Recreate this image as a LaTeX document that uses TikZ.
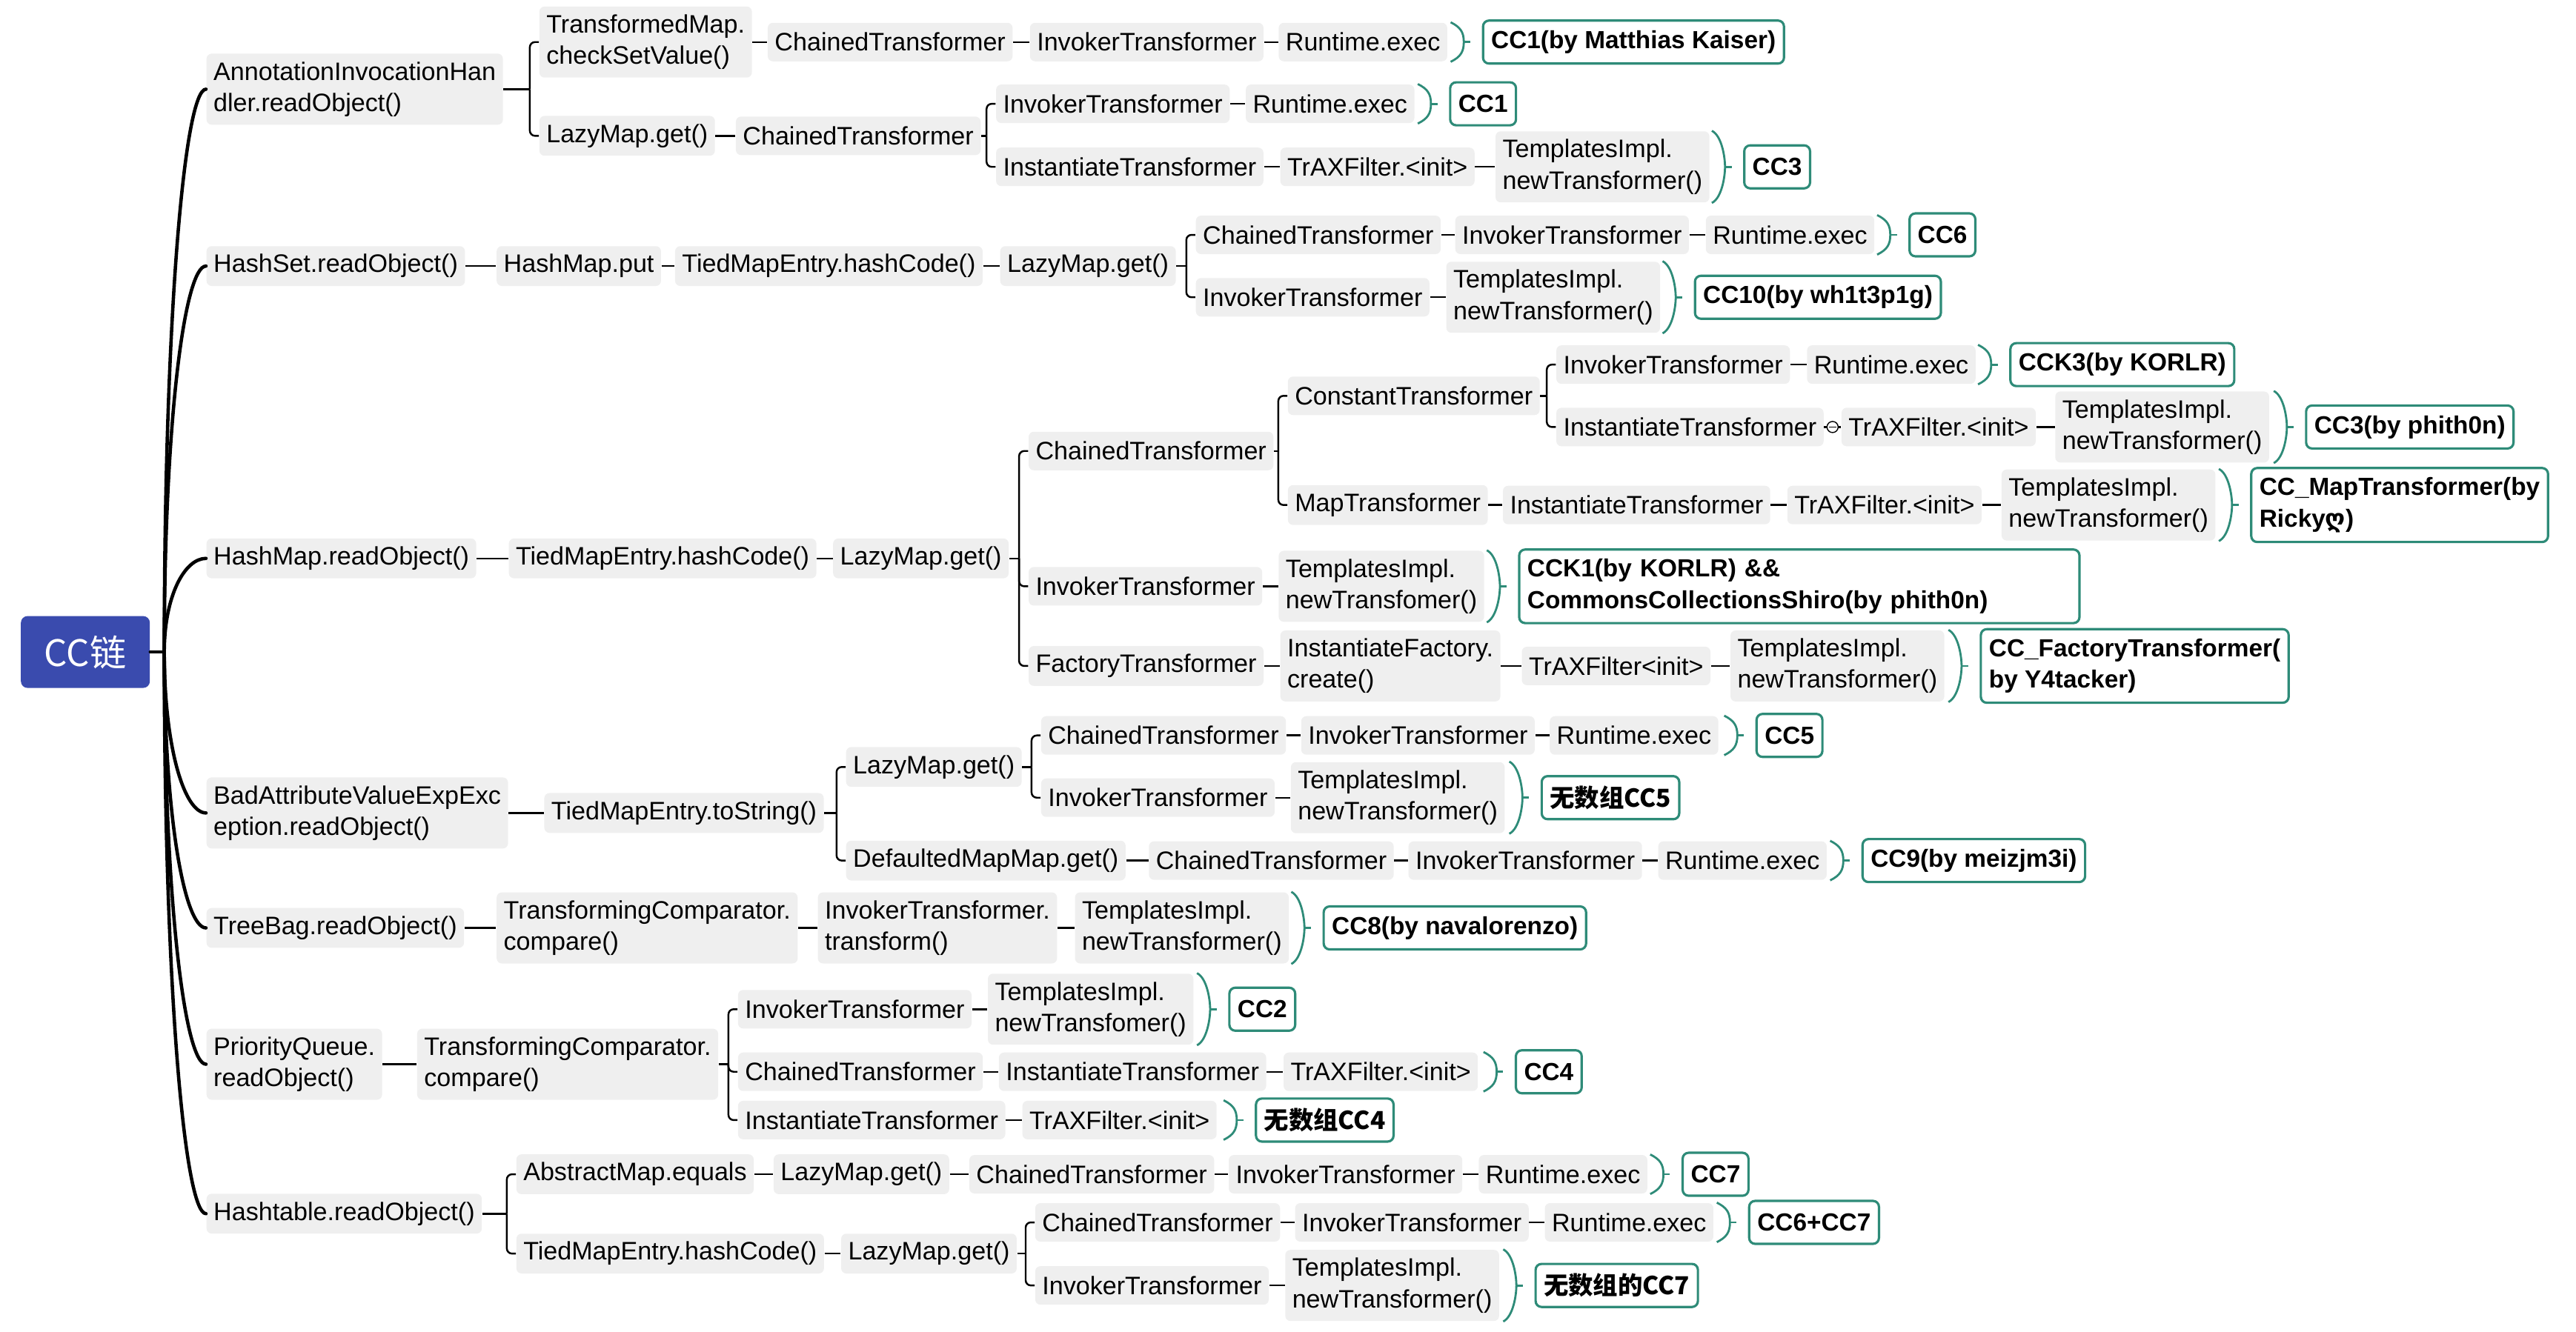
\documentclass[tikz,border=0pt]{standalone}
\usepackage{fontspec}
\setmainfont{Liberation Sans}
\newfontfamily\cjk{Noto Sans CJK SC}
\newfontfamily\geo{DejaVu Sans}
\usetikzlibrary{calc}
\definecolor{rootblue}{HTML}{3A4BAE}
\definecolor{itemgray}{HTML}{EFEFEF}
\definecolor{sumgreen}{HTML}{2E8B78}
\tikzset{%
    % style for the central topic
    root/.style={%
        fill=rootblue,
        text=white,
        rounded corners=0.9mm,
        minimum width=17.4mm,
        minimum height=9.7mm,
        anchor=west,
        font=\fontsize{14}{16}\selectfont,
    },
    % style for one step of a gadget chain
    item/.style={%
        fill=itemgray,
        rounded corners=0.7mm,
        inner xsep=0.95mm,
        inner ysep=1.1mm,
        minimum height=5.2mm,
        anchor=west,
        align=left,
        font=\fontsize{9.7}{12}\selectfont,
    },
    % style for the name of a chain
    result/.style={%
        draw=sumgreen,
        line width=0.9pt,
        fill=white,
        rounded corners=0.8mm,
        inner xsep=1.1mm,
        inner ysep=1.3mm,
        minimum height=5.8mm,
        anchor=west,
        align=left,
        font=\fontsize{9.5}{12}\selectfont\bfseries,
    },
    % style for the lines between the steps
    link/.style={%
        line width=0.7pt,
    },
    % style for the lines from the central topic
    trunk/.style={%
        line width=1.3pt,
        line cap=round,
    },
    % style for the summary brackets
    brace/.style={%
        sumgreen,
        line width=0.8pt,
    },
    % style for the folding mark
    fold mark/.style={%
        draw,
        fill=white,
        line width=0.4pt,
        shape=circle,
        inner sep=0pt,
        minimum size=1.5mm,
    },
}
% fork from a parent to its children
\newcommand{\fanout}[3]{%
    \path (#2.west) ++(-5.5,0) coordinate (tmp-hub);
    \coordinate (#1-hub) at (#1.east -| tmp-hub);
    \draw [link] (#1.east) -- (#1-hub);
    \foreach \kid in {#3} {%
        \draw [link, rounded corners=0.7mm] (#1-hub) |- (\kid.west);
    }%
}
% bracket between the last step and the name of the chain
\newcommand{\resultbrace}[2]{%
    \path ($(#2.west |- #1.north)+(-19,0)$) coordinate (br-top)
          ($(#2.west |- #1.south)+(-19,0)$) coordinate (br-bot)
          ($(br-top)!0.5!(br-bot)+(8,0)$) coordinate (br-mid);
    \draw [brace] (br-top) .. controls +(6,3) and +(0,-6) .. (br-mid)
          .. controls +(0,6) and +(6,-3) .. (br-bot);
    \draw [brace] (br-mid) -- ++(4,0);
}

\begin{document}
\begin{tikzpicture}[x=0.22168mm, y=-0.22168mm]
    % the picture is 1568 x 811 units
    \useasboundingbox (0,0) rectangle (1568,811);
    % central topic
    \node (root) at (12.4,397) [root] {\cjk CC链};
    \coordinate (root-hub) at (100,397);
    % first level
    \node (a0) at (125.4,54.3) [item] {AnnotationInvocationHan\\dler.readObject()};
    \node (b0) at (125.4,162) [item] {HashSet.readObject()};
    \node (c0) at (125.4,340) [item] {HashMap.readObject()};
    \node (d0) at (125.4,495) [item] {BadAttributeValueExpExc\\eption.readObject()};
    \node (e0) at (125.4,565) [item] {TreeBag.readObject()};
    \node (f0) at (125.4,648) [item] {PriorityQueue.\\readObject()};
    \node (g0) at (125.4,739) [item] {Hashtable.readObject()};
    %% curves from the central topic
    \draw [trunk] (root.east) -- (root-hub);
    \foreach \n in {a0,b0,c0,d0,e0,f0,g0}
        \draw [trunk] (root-hub) .. controls ($(root-hub)!0.6!(root-hub |- \n.west)$)
              and ($(\n.west)+(-13,0)$) .. (\n.west);
    % AnnotationInvocationHandler
    \node (a1) at (328,25.6) [item] {TransformedMap.\\checkSetValue()};
    \node (a1b) at (467,25.6) [item] {ChainedTransformer};
    \node (a1c) at (626.6,25.6) [item] {InvokerTransformer};
    \node (a1d) at (778,25.6) [item] {Runtime.exec};
    \node (ra1) at (902,25.6) [result] {CC1(by Matthias Kaiser)};
    \node (a2) at (328,82.7) [item] {LazyMap.get()};
    \node (a2b) at (447.6,82.7) [item] {ChainedTransformer};
    \node (a2c) at (606,63.2) [item] {InvokerTransformer};
    \node (a2d) at (758,63.2) [item] {Runtime.exec};
    \node (ra2) at (882,63.2) [result] {CC1};
    \node (a2e) at (606,101.6) [item] {InstantiateTransformer};
    \node (a2f) at (779,101.6) [item] {TrAXFilter.<init>};
    \node (a2g) at (910,101.6) [item] {TemplatesImpl.\\newTransformer()};
    \node (ra3) at (1061,101.6) [result] {CC3};
    % HashSet
    \node (b1) at (302,162) [item] {HashMap.put};
    \node (b2) at (410.6,162) [item] {TiedMapEntry.hashCode()};
    \node (b3) at (608.5,162) [item] {LazyMap.get()};
    \node (b4) at (727.6,143) [item] {ChainedTransformer};
    \node (b5) at (885.5,143) [item] {InvokerTransformer};
    \node (b6) at (1038,143) [item] {Runtime.exec};
    \node (rb1) at (1161.6,143) [result] {CC6};
    \node (b7) at (727.6,181) [item] {InvokerTransformer};
    \node (b8) at (880,181) [item] {TemplatesImpl.\\newTransformer()};
    \node (rb2) at (1031,181) [result] {CC10(by wh1t3p1g)};
    % HashMap
    \node (c1) at (309.4,340) [item] {TiedMapEntry.hashCode()};
    \node (c2) at (506.8,340) [item] {LazyMap.get()};
    \node (c3) at (625.8,274.6) [item] {ChainedTransformer};
    \node (c4) at (783.6,241) [item] {ConstantTransformer};
    \node (c5) at (947,222) [item] {InvokerTransformer};
    \node (c6) at (1099.6,222) [item] {Runtime.exec};
    \node (rc1) at (1223,222) [result] {CCK3(by KORLR)};
    \node (c7) at (947,260) [item] {InstantiateTransformer};
    \node (c8) at (1120.6,260) [item] {TrAXFilter.<init>};
    \node (c9) at (1250.7,260) [item] {TemplatesImpl.\\newTransformer()};
    \node (rc2) at (1403,260) [result] {CC3(by phith0n)};
    \node (c10) at (783.6,307.5) [item] {MapTransformer};
    \node (c11) at (914.5,307.5) [item] {InstantiateTransformer};
    \node (c12) at (1087.6,307.5) [item] {TrAXFilter.<init>};
    \node (c13) at (1218,307.5) [item] {TemplatesImpl.\\newTransformer()};
    \node (rc3) at (1369.6,307.5) [result] {CC\_MapTransformer(by\\Ricky{\geo ღ})};
    \node (c14) at (625.8,357) [item] {InvokerTransformer};
    \node (c15) at (778,357) [item] {TemplatesImpl.\\newTransfomer()};
    \node (rc4) at (924,357) [result, text width=73.4mm]
          {CCK1(by KORLR) \&\&\\CommonsCollectionsShiro(by phith0n)};
    \node (c16) at (625.8,405.5) [item] {FactoryTransformer};
    \node (c17) at (779,405.5) [item] {InstantiateFactory.\\create()};
    \node (c18) at (926,405.5) [item] {TrAXFilter<init>};
    \node (c19) at (1053,405.5) [item] {TemplatesImpl.\\newTransformer()};
    \node (rc5) at (1205,405.5) [result] {CC\_FactoryTransformer(\\by Y4tacker)};
    % BadAttributeValueExpException
    \node (d1) at (331,495) [item] {TiedMapEntry.toString()};
    \node (d2) at (514.7,467) [item] {LazyMap.get()};
    \node (d3) at (633.4,447.8) [item] {ChainedTransformer};
    \node (d4) at (791.7,447.8) [item] {InvokerTransformer};
    \node (d5) at (943,447.8) [item] {Runtime.exec};
    \node (rd1) at (1068.5,447.8) [result] {CC5};
    \node (d6) at (633.4,485.7) [item] {InvokerTransformer};
    \node (d7) at (785.4,485.7) [item] {TemplatesImpl.\\newTransformer()};
    \node (rd2) at (937.7,485.7) [result] {\cjk 无数组CC5};
    \node (d8) at (514.7,524) [item] {DefaultedMapMap.get()};
    \node (d9) at (699,524) [item] {ChainedTransformer};
    \node (d10) at (857,524) [item] {InvokerTransformer};
    \node (d11) at (1009,524) [item] {Runtime.exec};
    \node (rd3) at (1133,524) [result] {CC9(by meizjm3i)};
    % TreeBag
    \node (e1) at (302,565) [item] {TransformingComparator.\\compare()};
    \node (e2) at (497.5,565) [item] {InvokerTransformer.\\transform()};
    \node (e3) at (654,565) [item] {TemplatesImpl.\\newTransformer()};
    \node (re1) at (805,565) [result] {CC8(by navalorenzo)};
    % PriorityQueue
    \node (f1) at (253.6,648) [item] {TransformingComparator.\\compare()};
    \node (f2) at (448.9,614.5) [item] {InvokerTransformer};
    \node (f3) at (601,614.5) [item] {TemplatesImpl.\\newTransfomer()};
    \node (rf1) at (747.6,614.5) [result] {CC2};
    \node (f4) at (448.9,652.6) [item] {ChainedTransformer};
    \node (f5) at (607.7,652.6) [item] {InstantiateTransformer};
    \node (f6) at (781,652.6) [item] {TrAXFilter.<init>};
    \node (rf2) at (922,652.6) [result] {CC4};
    \node (f7) at (448.9,682) [item] {InstantiateTransformer};
    \node (f8) at (622,682) [item] {TrAXFilter.<init>};
    \node (rf3) at (763.8,682) [result] {\cjk 无数组CC4};
    % Hashtable
    \node (g1) at (314,715) [item] {AbstractMap.equals};
    \node (g2) at (470.6,715) [item] {LazyMap.get()};
    \node (g3) at (589.7,715) [item] {ChainedTransformer};
    \node (g4) at (747.6,715) [item] {InvokerTransformer};
    \node (g5) at (899.8,715) [item] {Runtime.exec};
    \node (rg1) at (1023.5,715) [result] {CC7};
    \node (g6) at (314,763.3) [item] {TiedMapEntry.hashCode()};
    \node (g7) at (511.7,763.3) [item] {LazyMap.get()};
    \node (g8) at (629.8,744.3) [item] {ChainedTransformer};
    \node (g9) at (788,744.3) [item] {InvokerTransformer};
    \node (g10) at (940,744.3) [item] {Runtime.exec};
    \node (rg2) at (1064,744.3) [result] {CC6+CC7};
    \node (g11) at (629.8,782.7) [item] {InvokerTransformer};
    \node (g12) at (782,782.7) [item] {TemplatesImpl.\\newTransformer()};
    \node (rg3) at (934,782.7) [result] {\cjk 无数组的CC7};
    % forks
    \fanout{a0}{a1}{a1,a2}
    \fanout{a2b}{a2c}{a2c,a2e}
    \fanout{b3}{b4}{b4,b7}
    \fanout{c2}{c3}{c3,c14,c16}
    \fanout{c3}{c4}{c4,c10}
    \fanout{c4}{c5}{c5,c7}
    \fanout{d1}{d2}{d2,d8}
    \fanout{d2}{d3}{d3,d6}
    \fanout{f1}{f2}{f2,f4,f7}
    \fanout{g0}{g1}{g1,g6}
    \fanout{g7}{g8}{g8,g11}
    % straight links along the chains
    \foreach \src/\dst in {a1/a1b, a1b/a1c, a1c/a1d, a2/a2b, a2c/a2d, a2e/a2f,
            a2f/a2g, b0/b1, b1/b2, b2/b3, b4/b5, b5/b6, b7/b8, c0/c1, c1/c2,
            c5/c6, c7/c8, c8/c9, c10/c11, c11/c12, c12/c13, c14/c15, c16/c17,
            c17/c18, c18/c19, d0/d1, d3/d4, d4/d5, d6/d7, d8/d9, d9/d10,
            d10/d11, e0/e1, e1/e2, e2/e3, f0/f1, f2/f3, f4/f5, f5/f6, f7/f8,
            g1/g2, g2/g3, g3/g4, g4/g5, g6/g7, g8/g9, g9/g10, g11/g12}
        \draw [link] (\src.east) -- (\dst.west);
    %% folding mark on one link
    \node (fold) at ($(c7.east)!0.5!(c8.west)$) [fold mark] {};
    \draw [line width=0.4pt] ($(fold.west)+(1.3,0)$) -- ($(fold.east)+(-1.3,0)$);
    % summary brackets
    \foreach \s/\r in {a1d/ra1, a2d/ra2, a2g/ra3, b6/rb1, b8/rb2, c6/rc1,
            c9/rc2, c13/rc3, c15/rc4, c19/rc5, d5/rd1, d7/rd2, d11/rd3,
            e3/re1, f3/rf1, f6/rf2, f8/rf3, g5/rg1, g10/rg2, g12/rg3}
        \resultbrace{\s}{\r};
\end{tikzpicture}
\end{document}
